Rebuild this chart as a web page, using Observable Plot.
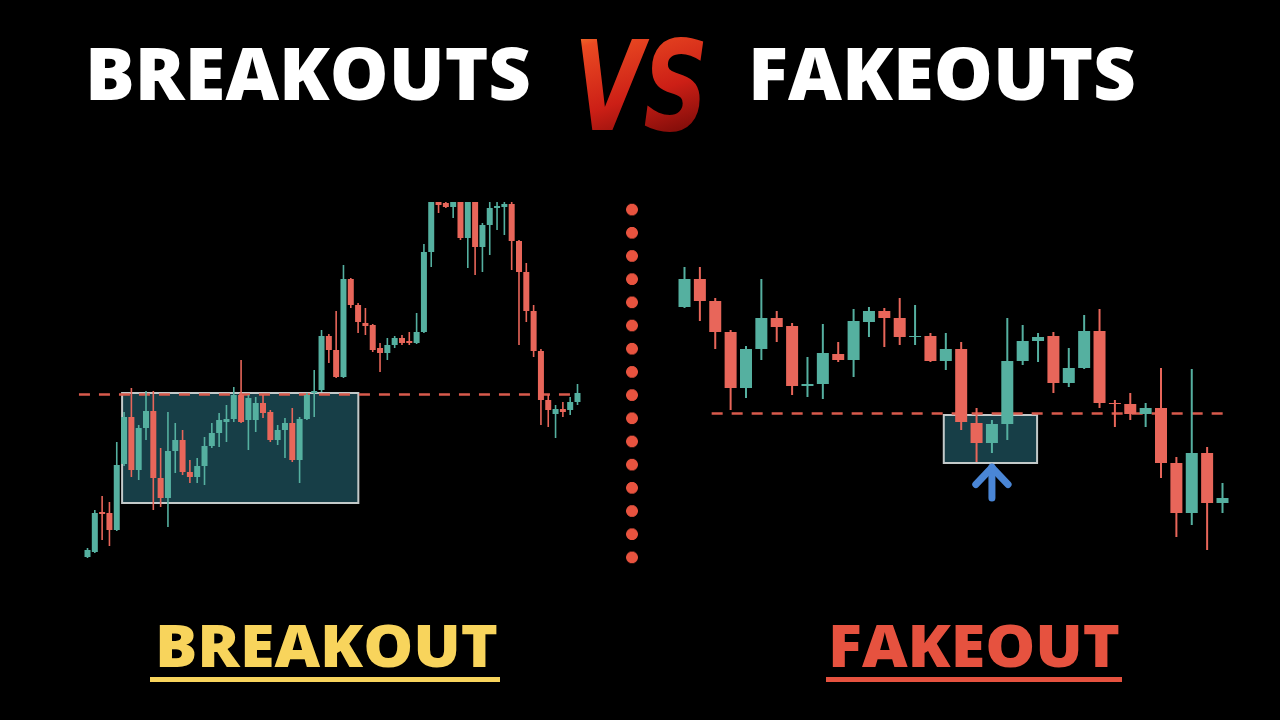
<!DOCTYPE html>
<html><head><meta charset="utf-8">
<script src="https://cdn.jsdelivr.net/npm/d3@7"></script>
<script src="https://cdn.jsdelivr.net/npm/@observablehq/plot@0.6"></script>
<style>
html,body{margin:0;padding:0;background:#000;}
#stage{position:relative;width:1280px;height:720px;background:#000;overflow:hidden;}
.abs{position:absolute;}
</style></head><body>
<div id="stage">
<svg class="abs" style="left:0;top:0" width="1280" height="720">
  <defs>
    <linearGradient id="vsg" x1="0" y1="0" x2="0.3" y2="1">
      <stop offset="0" stop-color="#F6B63A"/>
      <stop offset="0.22" stop-color="#EA4A22"/>
      <stop offset="0.65" stop-color="#CC1F16"/>
      <stop offset="1" stop-color="#7A0B08"/>
    </linearGradient>
  </defs>
  <text x="85" y="100" font-family="'Open Sans'" font-weight="800" font-size="72" fill="#ffffff" textLength="446" lengthAdjust="spacingAndGlyphs">BREAKOUTS</text>
  <text x="748" y="100" font-family="'Open Sans'" font-weight="800" font-size="72" fill="#ffffff" textLength="388" lengthAdjust="spacingAndGlyphs">FAKEOUTS</text>
  <text x="574" y="130" font-family="'DejaVu Sans'" font-weight="bold" font-style="italic" font-size="124" fill="url(#vsg)" textLength="134" lengthAdjust="spacingAndGlyphs">VS</text>
  <text x="155" y="667" font-family="'Open Sans'" font-weight="800" font-size="58" fill="#F8D45C" textLength="343" lengthAdjust="spacingAndGlyphs">BREAKOUT</text>
  <rect x="150" y="677" width="350" height="5" fill="#F8D45C"/>
  <text x="828" y="667" font-family="'Open Sans'" font-weight="800" font-size="58" fill="#E6523F" textLength="292" lengthAdjust="spacingAndGlyphs">FAKEOUT</text>
  <rect x="826" y="677" width="296" height="5" fill="#E6523F"/>
</svg>
<div id="left" class="abs" style="left:78px;top:202px"></div>
<div id="right" class="abs" style="left:670px;top:255px"></div>
<div class="abs" style="left:620px;top:198px;width:24px;height:372px;background-image:radial-gradient(circle at center, #E8533F 5.5px, rgba(0,0,0,0) 6.3px);background-size:24px 23.2px;"></div>
</div>
<script>
// ---- Breakout chart (left) ----
const bOpen  = [43,48,88,87,70,136,183,130,172,189,122,102,149,160,128,123,134,154,167,178,181,205,180,180,197,188,160,170,177,140,181,207,210,264,250,223,321,295,277,275,252,247,255,262,259,257,268,348,398,397,393,398,362,398,353,375,392,393,396,359,328,289,249,200,186,191,190,198];
const bHigh  = [52,90,104,98,158,188,212,175,209,209,152,188,177,170,140,142,163,177,187,195,213,240,205,203,205,190,175,182,192,183,207,230,270,266,289,335,322,297,292,276,257,262,264,265,268,287,356,405,405,400,400,405,405,405,377,398,398,398,398,360,337,295,251,205,195,198,203,216];
const bLow   = [42,47,60,54,69,134,123,120,160,90,93,73,127,125,117,117,115,152,153,158,178,177,150,168,182,158,155,142,138,117,180,183,208,237,222,222,292,267,265,248,228,240,252,255,255,256,267,333,387,392,382,360,332,325,328,345,370,365,330,255,278,243,175,173,162,183,185,195];
const bClose = [50,87,86,70,135,183,130,172,189,122,102,149,160,128,123,134,154,167,180,181,205,178,202,197,187,160,170,177,140,181,205,209,264,250,223,321,295,278,274,250,247,255,262,257,257,268,348,398,395,393,398,362,398,353,375,392,394,396,359,328,289,249,200,190,191,188,198,207];
const bLevel = 206;
const bRange = {x1: 4.8, x2: 37.1, y1: 97, y2: 207};

// ---- Fakeout chart (right) ----
const fOpen  = [293,321,299,268,212,251,282,274,214,216,246,240,278,289,282,263,264,239,251,177,157,176,239,259,264,217,232,269,197,196,186,192,137,87,147,97];
const fHigh  = [333,333,302,270,254,321,289,277,243,276,258,291,293,292,302,295,267,267,258,192,180,282,275,267,268,252,285,291,200,207,197,232,143,231,153,117];
const fLow   = [292,279,251,190,202,240,258,205,203,201,238,223,263,253,255,255,238,230,170,138,147,160,235,238,207,213,231,192,173,180,173,122,63,75,50,87];
const fClose = [321,299,268,212,251,282,273,214,216,247,240,279,289,282,263,264,239,251,178,157,176,239,259,263,217,232,269,197,196,186,192,137,87,147,97,102];
const fLevel = 187;
const fRange = {x1: 16.9, x2: 22.97, y1: 137, y2: 185};
const fArrowShaft = [{x: 20, y1: 102, y2: 133}];
const fArrowHead = [{x: 18.95, y: 116}, {x: 20, y: 133}, {x: 21.05, y: 116}];

const GREEN = "#55B0A0", RED = "#E8665A";

function toRows(o, h, l, c) {
  return o.map((v, i) => ({i, open: v, high: h[i], low: l[i], close: c[i]}));
}

function candleChart({rows, width, height, xRange, yDomain, range, level, levelX, bodyW, wickW, extra = []}) {
  const col = d => d.close >= d.open ? GREEN : RED;
  return Plot.plot({
    width, height, margin: 0,
    style: {background: "transparent", overflow: "visible"},
    x: {domain: [0, rows.length - 1], range: xRange, axis: null},
    y: {domain: yDomain, axis: null},
    marks: [
      Plot.rect([range], {x1: "x1", x2: "x2", y1: "y1", y2: "y2", fill: "#173E47", stroke: "#C3C9C9", strokeWidth: 2}),
      Plot.ruleY([level], {x1: levelX[0], x2: levelX[1], stroke: "#D85A4C", strokeWidth: 2.5, strokeDasharray: "11,9"}),
      Plot.ruleX(rows, {x: "i", y1: "low", y2: "high", stroke: col, strokeWidth: wickW, clip: true}),
      Plot.ruleX(rows, {x: "i", y1: "open", y2: "close", stroke: col, strokeWidth: bodyW, clip: true}),
      ...extra
    ]
  });
}

document.getElementById("left").append(candleChart({
  rows: toRows(bOpen, bHigh, bLow, bClose),
  width: 510, height: 363, xRange: [9, 499], yDomain: [35, 398],
  range: bRange, level: bLevel, levelX: [-1.1, 67.2], bodyW: 6, wickW: 1.6
}));

document.getElementById("right").append(candleChart({
  rows: toRows(fOpen, fHigh, fLow, fClose),
  width: 575, height: 305, xRange: [14, 552], yDomain: [40, 345],
  range: fRange, level: fLevel, levelX: [1.8, 35.4], bodyW: 12, wickW: 2,
  extra: [
    Plot.ruleX(fArrowShaft, {x: "x", y1: "y1", y2: "y2", stroke: "#4A86D6", strokeWidth: 7, strokeLinecap: "round"}),
    Plot.line(fArrowHead, {x: "x", y: "y", stroke: "#4A86D6", strokeWidth: 7, strokeLinecap: "round", strokeLinejoin: "round"})
  ]
}));
</script>
</body></html>
